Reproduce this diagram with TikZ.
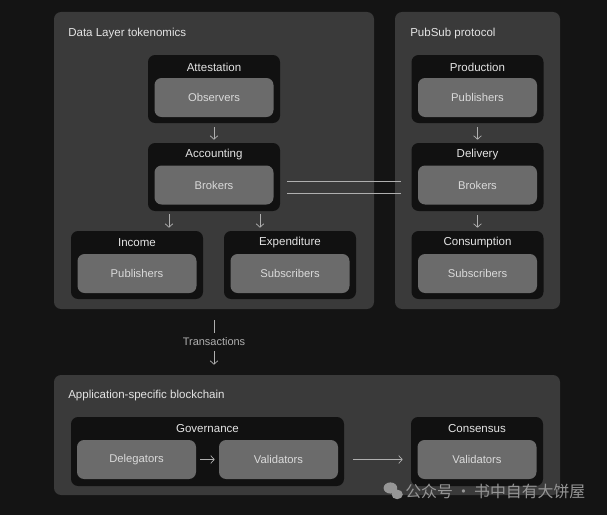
\documentclass[tikz,border=0pt]{standalone}
\usepackage{fontspec}
\setmainfont{Liberation Sans}
\newfontfamily\cjkfont{Noto Sans CJK SC}
\usepackage{xcolor}
\definecolor{dlbg}{RGB}{20,20,20}
\definecolor{dlpanel}{RGB}{58,58,58}
\definecolor{dlstage}{RGB}{17,17,17}
\definecolor{dlrole}{RGB}{107,107,107}
\definecolor{dltext}{RGB}{228,228,228}
\definecolor{dlroletext}{RGB}{218,218,218}
\definecolor{dlarrow}{RGB}{175,175,175}
\definecolor{dlmark}{RGB}{150,150,150}
\usepackage{tikz}
\usetikzlibrary{arrows.meta,positioning,calc}
\newcommand{\dlfont}{\fontsize{8.2}{10}\selectfont}
\tikzset{
  panel/.style={fill=dlpanel, rounded corners=5pt, inner sep=0pt},
  ptitle/.style={anchor=west, text=dltext, inner sep=0pt, font=\dlfont},
  stagebox/.style={fill=dlstage, rounded corners=5pt, minimum width=3.3cm, minimum height=1.7cm, inner sep=0pt},
  stitle/.style={text=dltext, inner sep=0pt, font=\dlfont},
  role/.style={fill=dlrole, rounded corners=5pt, minimum width=2.975cm, minimum height=0.975cm, inner sep=0pt, text=dlroletext, font=\fontsize{8}{10}\selectfont},
  arr/.style={-{Straight Barb[length=2.5pt,width=5.5pt]}, draw=dlarrow, line width=0.5pt},
  link/.style={draw=dlarrow, line width=0.6pt},
  lbl/.style={fill=dlbg, text=dlarrow, inner sep=1pt, minimum height=0.45cm, font=\fontsize{7.8}{10}\selectfont}
}
\begin{document}
\begin{tikzpicture}
  \useasboundingbox (0,0) rectangle (15.175,-12.875);
  \fill[dlbg] (0,0) rectangle (15.175,-12.875);
  % panels
  \node[panel, minimum width=8.0cm, minimum height=7.425cm] (dlt) at (5.35,-4.0125) {};
  \node[panel, minimum width=4.125cm, minimum height=7.425cm] (pss) at (11.9375,-4.0125) {};
  \node[panel, minimum width=12.65cm, minimum height=3.0cm] (asb) at (7.675,-10.875) {};
  \node[ptitle] (dltt) at (1.7,-0.85) {Data Layer tokenomics};
  \node[ptitle] (psst) at (10.25,-0.85) {PubSub protocol};
  \node[ptitle] (asbt) at (1.7,-9.9) {Application-specific blockchain};
  % data layer tokenomics
  \node[stagebox] (att) at (5.35,-2.225) {};
  \node[stitle] (attt) at (5.35,-1.675) {Attestation};
  \node[role] (obs) at (5.35,-2.4375) {Observers};
  \node[stagebox] (acc) at (5.35,-4.425) {};
  \node[stitle] (acct) at (5.35,-3.875) {Accounting};
  \node[role] (bro1) at (5.35,-4.625) {Brokers};
  \node[stagebox] (inc) at (3.425,-6.625) {};
  \node[stitle] (inct) at (3.425,-6.075) {Income};
  \node[role] (pub1) at (3.425,-6.8375) {Publishers};
  \node[stagebox] (exp) at (7.25,-6.625) {};
  \node[stitle] (expt) at (7.25,-6.075) {Expenditure};
  \node[role] (sub1) at (7.25,-6.8375) {Subscribers};
  % pubsub protocol
  \node[stagebox] (prod) at (11.9375,-2.225) {};
  \node[stitle] (prodt) at (11.9375,-1.675) {Production};
  \node[role] (pub2) at (11.9375,-2.4375) {Publishers};
  \node[stagebox] (del) at (11.9375,-4.425) {};
  \node[stitle] (delt) at (11.9375,-3.875) {Delivery};
  \node[role] (bro2) at (11.9375,-4.625) {Brokers};
  \node[stagebox] (cons) at (11.9375,-6.625) {};
  \node[stitle] (const) at (11.9375,-6.075) {Consumption};
  \node[role] (sub2) at (11.9375,-6.8375) {Subscribers};
  % application-specific blockchain
  \node[stagebox, minimum width=6.825cm, minimum height=1.725cm] (gov) at (5.1875,-11.2875) {};
  \node[stitle] (govt) at (5.1875,-10.725) {Governance};
  \node[role] (dlg) at (3.4125,-11.4875) {Delegators};
  \node[role] (val1) at (6.9625,-11.4875) {Validators};
  \node[stagebox, minimum height=1.725cm] (csn) at (11.925,-11.2875) {};
  \node[stitle] (csnt) at (11.925,-10.725) {Consensus};
  \node[role] (val2) at (11.925,-11.4875) {Validators};
  % connectors
  \draw[arr, shorten <=0.1cm, shorten >=0.075cm] (att) -- (acc);
  \draw[arr, shorten <=0.1cm, shorten >=0.075cm] (prod) -- (del);
  \draw[arr, shorten <=0.1cm, shorten >=0.075cm] (del) -- (cons);
  \draw[arr, shorten <=0.075cm, shorten >=0.075cm] ([xshift=-1.125cm]acc.south) -- ([xshift=-1.125cm]acc.south |- inc.north);
  \draw[arr, shorten <=0.075cm, shorten >=0.075cm] ([xshift=1.15cm]acc.south) -- ([xshift=1.15cm]acc.south |- exp.north);
  \draw[link] ($(acc.east |- bro1)+(0.175,0.1)$) -- ($(del.west |- bro1)+(-0.25,0.1)$);
  \draw[link] ($(acc.east |- bro1)+(0.175,-0.2)$) -- ($(del.west |- bro1)+(-0.25,-0.2)$);
  \draw[arr, shorten <=0.275cm, shorten >=0.25cm] (dlt.south) -- node[lbl]{Transactions} (dlt.south |- asb.north);
  \draw[arr, shorten <=0.1cm, shorten >=0.1cm] (dlg) -- (val1);
  \draw[arr, shorten <=0.225cm, shorten >=0.2cm] (gov.east |- val1) -- (csn.west |- val2);
  % watermark
  \fill[dlmark] (9.76,-12.2) ellipse (0.17cm and 0.14cm);
  \fill[dlmark] (9.93,-12.36) ellipse (0.14cm and 0.12cm);
  \node[anchor=west, text=dlmark, inner sep=0pt, font=\cjkfont\fontsize{11.3}{13}\selectfont] (wm) at (10.125,-12.275) {公众号\,·\,书中自有大饼屋};
\end{tikzpicture}
\end{document}
